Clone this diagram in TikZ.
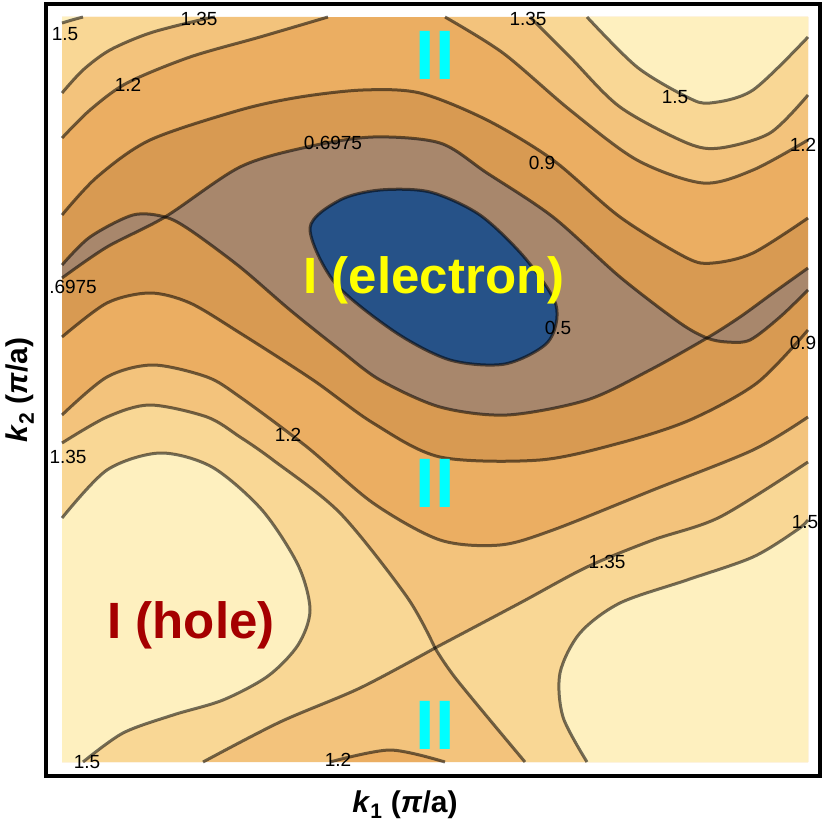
\documentclass[tikz,border=0pt]{standalone}
\usepackage{fontspec}
\setmainfont{Liberation Sans}
\begin{document}
\begin{tikzpicture}[x=1pt,y=-1pt]
			\tikzstyle{cl} = [draw=black, draw opacity=0.55, line width=3pt, line join=round]
			\tikzstyle{lv} = [font=\fontsize{19}{20}\selectfont, inner sep=0pt]
			\tikzstyle{two} = [text=aqua, font=\fontsize{70}{70}\selectfont\bfseries, inner sep=0pt]
			\tikzstyle{big} = [font=\fontsize{51}{51}\selectfont\bfseries, inner sep=0pt]
			\tikzstyle{ax} = [font=\fontsize{30}{30}\selectfont\bfseries, inner sep=0pt]
			\definecolor{ca}{HTML}{FEF0BF}
			\definecolor{cb}{HTML}{F9D795}
			\definecolor{cc}{HTML}{F3C37C}
			\definecolor{cd}{HTML}{EBAE62}
			\definecolor{ce}{HTML}{D89A52}
			\definecolor{cf}{HTML}{A8876C}
			\definecolor{cg}{HTML}{265288}
			\definecolor{hole}{HTML}{A50000}
			\definecolor{aqua}{HTML}{00FFFF}
			\definecolor{lemon}{HTML}{FFFF00}
			\useasboundingbox (0,0) rectangle (825,832);
			% bands
			\fill[cd] (62,17) rectangle (808,762);
			\fill[cc] plot[smooth] coordinates {(62,138) (90,110) (127,83) (190,57) (260,37) (328,17)} -- (62,17) -- cycle;
			\fill[cb] plot[smooth] coordinates {(62,93) (83,70) (110,50) (150,33) (200,20) (215,17)} -- (62,17) -- cycle;
			\fill[ca] plot[smooth] coordinates {(62,23) (72,20) (83,17)} -- (62,17) -- cycle;
			\fill[cc] plot[smooth] coordinates {(445,17) (503,53) (570,110) (637,160) (703,183) (753,170) (808,140)} -- (808,17) -- cycle;
			\fill[cb] plot[smooth] coordinates {(530,17) (570,57) (620,107) (687,143) (720,148) (770,133) (808,95)} -- (808,17) -- cycle;
			\fill[ca] plot[smooth] coordinates {(587,17) (637,67) (687,97) (710,103) (753,90) (808,37)} -- (808,17) -- cycle;
			\fill[ce] plot[smooth] coordinates {(62,215) (97,177) (150,140) (240,110) (300,97) (363,90) (420,93) (487,120) (553,160) (620,217) (687,258) (713,263) (753,253) (808,218)}
				-- plot[smooth] coordinates {(808,330) (757,383) (690,420) (620,443) (540,460) (440,457) (373,423) (313,380) (240,333) (190,303) (150,293) (107,303) (62,337)} -- cycle;
			\fill[cf] plot[smooth] coordinates {(62,278) (107,247) (165,217) (240,167) (307,147) (373,137) (440,143) (487,173) (553,217) (620,277) (680,323) (707,338) (727,342) (750,340) (780,317) (808,290)}
				-- plot[smooth] coordinates {(808,268) (773,293) (740,317) (707,338) (650,370) (587,400) (507,415) (440,407) (380,380) (340,350) (290,310) (240,267) (190,230) (165,217) (133,215) (90,237) (62,265)} -- cycle;
			\fill[cc] plot[smooth] coordinates {(62,415) (107,377) (153,365) (207,377) (240,397) (307,447) (373,503) (440,540) (500,545) (553,530) (653,490) (753,450) (808,417)} -- (808,762) -- (62,762) -- cycle;
			\fill[cb] plot[smooth] coordinates {(62,443) (107,417) (150,405) (207,417) (240,437) (273,460) (340,513) (407,597) (435,648)}
				-- plot[smooth] coordinates {(435,648) (360,688) (280,722) (203,762)} -- (62,762) -- cycle;
			\fill[cb] plot[smooth] coordinates {(435,648) (520,603) (587,567) (653,540) (720,517) (808,462)} -- (808,762)
				-- plot[smooth] coordinates {(525,762) (457,680) (435,648)} -- cycle;
			\fill[ca] plot[smooth] coordinates {(62,518) (107,470) (160,453) (212,467) (262,510) (298,565) (310,610) (298,645) (268,676) (223,700) (173,715) (123,733) (83,762)} -- (62,762) -- cycle;
			\fill[ca] plot[smooth] coordinates {(808,520) (797,530) (753,557) (687,580) (620,603) (580,633) (560,673) (563,717) (587,762)} -- (808,762) -- cycle;
			\fill[cd] plot[smooth] coordinates {(330,762) (390,750) (445,762)} -- cycle;
			\fill[cg] plot[smooth cycle] coordinates {(310,228) (340,200) (380,190) (430,192) (480,215) (525,258) (556,305) (548,342) (505,364) (450,360) (395,332) (335,283)};
			% contour lines
			\draw[cl] plot[smooth] coordinates {(62,23) (72,20) (83,17)};
			\draw[cl] plot[smooth] coordinates {(62,93) (83,70) (110,50) (150,33) (200,20) (215,17)};
			\draw[cl] plot[smooth] coordinates {(62,138) (90,110) (127,83) (190,57) (260,37) (328,17)};
			\draw[cl] plot[smooth] coordinates {(445,17) (503,53) (570,110) (637,160) (703,183) (753,170) (808,140)};
			\draw[cl] plot[smooth] coordinates {(530,17) (570,57) (620,107) (687,143) (720,148) (770,133) (808,95)};
			\draw[cl] plot[smooth] coordinates {(587,17) (637,67) (687,97) (710,103) (753,90) (808,37)};
			\draw[cl] plot[smooth] coordinates {(62,215) (97,177) (150,140) (240,110) (300,97) (363,90) (420,93) (487,120) (553,160) (620,217) (687,258) (713,263) (753,253) (808,218)};
			\draw[cl] plot[smooth] coordinates {(808,330) (757,383) (690,420) (620,443) (540,460) (440,457) (373,423) (313,380) (240,333) (190,303) (150,293) (107,303) (62,337)};
			\draw[cl] plot[smooth] coordinates {(62,278) (107,247) (165,217) (240,167) (307,147) (373,137) (440,143) (487,173) (553,217) (620,277) (680,323) (707,338) (727,342) (750,340) (780,317) (808,290)};
			\draw[cl] plot[smooth] coordinates {(808,268) (773,293) (740,317) (707,338) (650,370) (587,400) (507,415) (440,407) (380,380) (340,350) (290,310) (240,267) (190,230) (165,217) (133,215) (90,237) (62,265)};
			\draw[cl] plot[smooth] coordinates {(62,415) (107,377) (153,365) (207,377) (240,397) (307,447) (373,503) (440,540) (500,545) (553,530) (653,490) (753,450) (808,417)};
			\draw[cl] plot[smooth] coordinates {(62,443) (107,417) (150,405) (207,417) (240,437) (273,460) (340,513) (407,597) (435,648)};
			\draw[cl] plot[smooth] coordinates {(435,648) (360,688) (280,722) (203,762)};
			\draw[cl] plot[smooth] coordinates {(435,648) (520,603) (587,567) (653,540) (720,517) (808,462)};
			\draw[cl] plot[smooth] coordinates {(525,762) (457,680) (435,648)};
			\draw[cl] plot[smooth] coordinates {(62,518) (107,470) (160,453) (212,467) (262,510) (298,565) (310,610) (298,645) (268,676) (223,700) (173,715) (123,733) (83,762)};
			\draw[cl] plot[smooth] coordinates {(808,520) (797,530) (753,557) (687,580) (620,603) (580,633) (560,673) (563,717) (587,762)};
			\draw[cl] plot[smooth] coordinates {(330,762) (390,750) (445,762)};
			\draw[cl] plot[smooth cycle] coordinates {(310,228) (340,200) (380,190) (430,192) (480,215) (525,258) (556,305) (548,342) (505,364) (450,360) (395,332) (335,283)};
			% level labels
			\begin{scope}
				\clip (49,0) rectangle (825,832);
				\node[lv] (l-a) at (65,34) {1.5};
				\node[lv] (l-b) at (199,19) {1.35};
				\node[lv] (l-c) at (128,85) {1.2};
				\node[lv] (l-d) at (333,143) {0.6975};
				\node[lv, anchor=east] (l-e) at (97,287) {0.6975};
				\node[lv] (l-f) at (528,19) {1.35};
				\node[lv] (l-g) at (675,97) {1.5};
				\node[lv] (l-h) at (803,145) {1.2};
				\node[lv] (l-i) at (542,163) {0.9};
				\node[lv] (l-j) at (558,328) {0.5};
				\node[lv] (l-k) at (803,343) {0.9};
				\node[lv] (l-l) at (288,435) {1.2};
				\node[lv] (l-m) at (68,457) {1.35};
				\node[lv] (l-n) at (87,762) {1.5};
				\node[lv] (l-o) at (338,760) {1.2};
				\node[lv] (l-p) at (607,562) {1.35};
				\node[lv] (l-q) at (805,522) {1.5};
			\end{scope}
			% regions
			\node[two] (ii-top) at (435,55) {II};
			\node[two] (ii-mid) at (435,483) {II};
			\node[two] (ii-bot) at (435,725) {II};
			\node[big, text=lemon] (elec) at (434,280) {I (electron)};
			\node[big, text=hole] (hole) at (191,625) {I (hole)};
			% frame and axes
			\draw[line width=4pt] (46,4) rectangle (820,776);
			\node[ax] (k-one) at (405,805) {\textit{k}\textsubscript{1} (\textit{π}/a)};
			\node[ax, rotate=90] (k-two) at (20,390) {\textit{k}\textsubscript{2} (\textit{π}/a)};
\end{tikzpicture}
\end{document}
